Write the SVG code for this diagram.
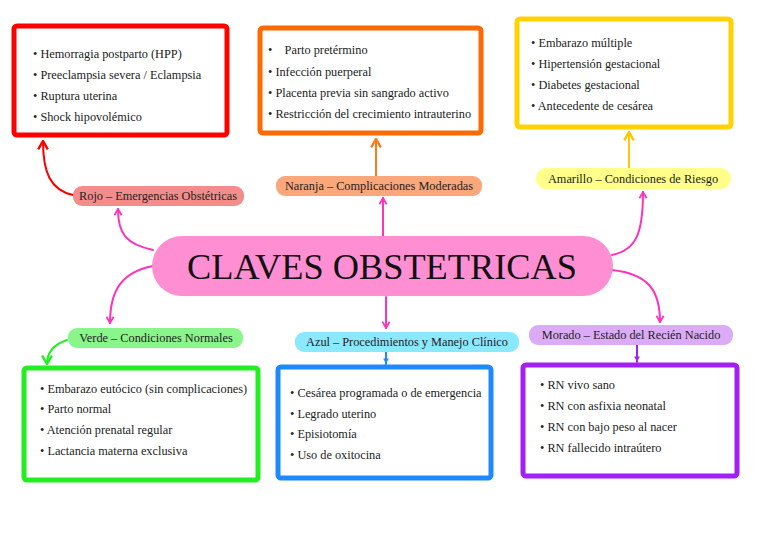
<svg xmlns="http://www.w3.org/2000/svg" width="768" height="543" viewBox="0 0 768 543">
<style>
text{font-family:"Liberation Serif","Times New Roman",serif;font-size:12.3px;fill:#222}
.box{fill:#fff;stroke-width:5}
.lbl{stroke:none}
.lt{text-anchor:middle}
.con{fill:none;stroke-width:2;stroke-linecap:round}
.pink{stroke:#ff33bb}
</style>
<defs>
<marker id="aRed" viewBox="0 0 10 10" refX="9" refY="5" markerWidth="12" markerHeight="12" orient="auto" markerUnits="userSpaceOnUse"><path d="M2,1 L9,5 L2,9" fill="none" stroke="#ff0000" stroke-width="2"/></marker>
<marker id="aOr" viewBox="0 0 10 10" refX="9" refY="5" markerWidth="12" markerHeight="12" orient="auto" markerUnits="userSpaceOnUse"><path d="M2,1 L9,5 L2,9" fill="none" stroke="#ff7a1a" stroke-width="2"/></marker>
<marker id="aYe" viewBox="0 0 10 10" refX="9" refY="5" markerWidth="12" markerHeight="12" orient="auto" markerUnits="userSpaceOnUse"><path d="M2,1 L9,5 L2,9" fill="none" stroke="#ffc800" stroke-width="2"/></marker>
<marker id="aGr" viewBox="0 0 10 10" refX="9" refY="5" markerWidth="12" markerHeight="12" orient="auto" markerUnits="userSpaceOnUse"><path d="M2,1 L9,5 L2,9" fill="none" stroke="#22ee22" stroke-width="2"/></marker>
<marker id="aBl" viewBox="0 0 10 10" refX="9" refY="5" markerWidth="7" markerHeight="7" orient="auto" markerUnits="userSpaceOnUse"><path d="M1,1 L9,5 L1,9 Z" fill="#1e88ff"/></marker>
<marker id="aPu" viewBox="0 0 10 10" refX="9" refY="5" markerWidth="7" markerHeight="7" orient="auto" markerUnits="userSpaceOnUse"><path d="M1,1 L9,5 L1,9 Z" fill="#a21ff5"/></marker>
<marker id="aPk" viewBox="0 0 10 10" refX="9" refY="5" markerWidth="9" markerHeight="9" orient="auto" markerUnits="userSpaceOnUse"><path d="M2,1 L9,5 L2,9" fill="none" stroke="#ff33bb" stroke-width="2"/></marker>
</defs>

<g id="connectors">
<path class="con pink" d="M153,250 C126,244 118,234 118,209" marker-end="url(#aPk)"/>
<path class="con pink" d="M153,266 C122,272 110,290 110,323" marker-end="url(#aPk)"/>
<path class="con pink" d="M383,236 L383,198" marker-end="url(#aPk)"/>
<path class="con pink" d="M612,255 C636,250 643,234 643,192" marker-end="url(#aPk)"/>
<path class="con pink" d="M386,297 L386,328" marker-end="url(#aPk)"/>
<path class="con pink" d="M612,270 C648,274 660,290 660,322" marker-end="url(#aPk)"/>
<path class="con" stroke="#ff0000" d="M73,195 C50,190 43,172 43,141" marker-end="url(#aRed)"/>
<path class="con" stroke="#ff7a1a" d="M376,176 L376,139" marker-end="url(#aOr)"/>
<path class="con" stroke="#ffc800" d="M629,168 L629,132" marker-end="url(#aYe)"/>
<path class="con" stroke="#22ee22" d="M67,340 C55,344 47,352 47,364" marker-end="url(#aGr)"/>
<path class="con" stroke="#1e88ff" d="M386,352 L386,364" marker-end="url(#aBl)"/>
<path class="con" stroke="#a21ff5" d="M637,345 L637,362" marker-end="url(#aPu)"/>
</g>

<g id="central">
<rect x="152" y="236" width="461" height="60" rx="30" fill="#ff8fd2"/>
<text x="187" y="279" textLength="390" lengthAdjust="spacingAndGlyphs" style="font-size:35px;fill:#111">CLAVES OBSTETRICAS</text>
</g>

<g id="rojo-label">
<rect class="lbl" x="73" y="186" width="171" height="20" rx="9" fill="#f58c8c"/>
<text class="lt" x="158" y="200">Rojo – Emergencias Obstétricas</text>
</g>
<g id="naranja-label">
<rect class="lbl" x="276" y="176" width="206" height="20" rx="9" fill="#f9a77b"/>
<text class="lt" x="379" y="190">Naranja – Complicaciones Moderadas</text>
</g>
<g id="amarillo-label">
<rect class="lbl" x="536" y="168" width="195" height="21" rx="10" fill="#ffff8a"/>
<text class="lt" x="633" y="183">Amarillo – Condiciones de Riesgo</text>
</g>
<g id="verde-label">
<rect class="lbl" x="68" y="328" width="175" height="20" rx="9" fill="#8af58a"/>
<text class="lt" x="156" y="342">Verde – Condiciones Normales</text>
</g>
<g id="azul-label">
<rect class="lbl" x="295" y="332" width="224" height="20" rx="9" fill="#8ae9ff"/>
<text class="lt" x="407" y="346">Azul – Procedimientos y Manejo Clínico</text>
</g>
<g id="morado-label">
<rect class="lbl" x="529" y="325" width="204" height="20" rx="9" fill="#dcabf7"/>
<text class="lt" x="631" y="339">Morado – Estado del Recién Nacido</text>
</g>

<g id="rojo-box">
<rect class="box" x="14" y="26" width="213" height="109" rx="3" stroke="#ff0000"/>
<text x="33" y="58">• Hemorragia postparto (HPP)</text>
<text x="33" y="79">• Preeclampsia severa / Eclampsia</text>
<text x="33" y="100">• Ruptura uterina</text>
<text x="33" y="121">• Shock hipovolémico</text>
</g>
<g id="naranja-box">
<rect class="box" x="260" y="28" width="221" height="105" rx="3" stroke="#ff6a00"/>
<text x="268" y="54" xml:space="preserve">•    Parto pretérmino</text>
<text x="268" y="76">• Infección puerperal</text>
<text x="268" y="97">• Placenta previa sin sangrado activo</text>
<text x="268" y="118">• Restricción del crecimiento intrauterino</text>
</g>
<g id="amarillo-box">
<rect class="box" x="517" y="19" width="214" height="108" rx="3" stroke="#ffd200"/>
<text x="531" y="47">• Embarazo múltiple</text>
<text x="531" y="68">• Hipertensión gestacional</text>
<text x="531" y="89">• Diabetes gestacional</text>
<text x="531" y="110">• Antecedente de cesárea</text>
</g>
<g id="verde-box">
<rect class="box" x="24" y="368" width="234" height="112" rx="3" stroke="#22ee22"/>
<text x="40" y="393">• Embarazo eutócico (sin complicaciones)</text>
<text x="40" y="413">• Parto normal</text>
<text x="40" y="434">• Atención prenatal regular</text>
<text x="40" y="455">• Lactancia materna exclusiva</text>
</g>
<g id="azul-box">
<rect class="box" x="278" y="367" width="213" height="111" rx="3" stroke="#1e88ff"/>
<text x="290" y="397">• Cesárea programada o de emergencia</text>
<text x="290" y="418">• Legrado uterino</text>
<text x="290" y="438">• Episiotomía</text>
<text x="290" y="459">• Uso de oxitocina</text>
</g>
<g id="morado-box">
<rect class="box" x="523" y="365" width="214" height="111" rx="3" stroke="#a21ff5"/>
<text x="540" y="389">• RN vivo sano</text>
<text x="540" y="410">• RN con asfixia neonatal</text>
<text x="540" y="431">• RN con bajo peso al nacer</text>
<text x="540" y="452">• RN fallecido intraútero</text>
</g>
</svg>
